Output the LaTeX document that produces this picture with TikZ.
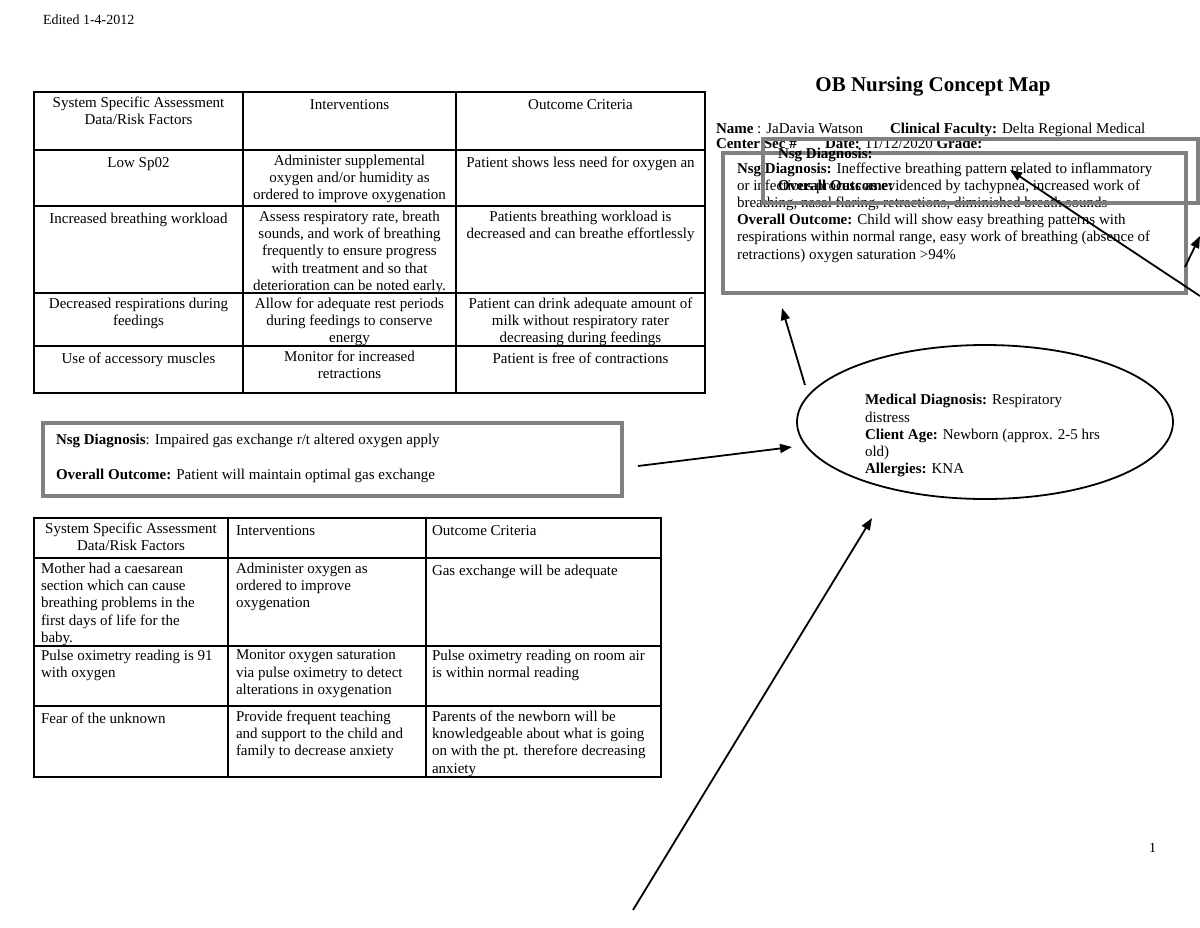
\documentclass[tikz,border=0pt]{standalone}
\usepackage{fontspec}
\setmainfont{Liberation Serif}
\usetikzlibrary{arrows.meta}
\definecolor{boxgray}{HTML}{808080}
\tikzset{
  txt/.style={inner sep=0pt, outer sep=0pt, yshift=-2pt, font=\fontsize{15}{17.2}\selectfont, execute at begin node=\strut},
  ctxt/.style={txt, align=center, anchor=north},
  ltxt/.style={txt, align=left, anchor=north west},
  stxt/.style={inner sep=0pt, outer sep=0pt, font=\fontsize{15}{17.2}\selectfont, anchor=base west},
  gbox/.style={draw=boxgray, line width=4pt},
  tline/.style={line width=1.2pt},
  arr/.style={-{Triangle[length=12pt,width=9pt]}, line width=1.8pt},
}
\begin{document}
\begin{tikzpicture}[x=1pt,y=-1pt]
\useasboundingbox[fill=white] (0,0) rectangle (1200,927);

% header texts
\node[stxt, font=\fontsize{14}{16}\selectfont] (edited) at (43,24) {Edited 1-4-2012};
\node[inner sep=0pt, anchor=base, font=\fontsize{21}{24}\selectfont\bfseries] (title) at (933,91) {OB Nursing Concept Map};
\node[stxt] (name) at (716,133.5) {\textbf{Name} : JaDavia Watson};
\node[stxt] (faculty) at (890,133.5) {\textbf{Clinical Faculty:} Delta Regional Medical};
\node[stxt] (center) at (716,148.5) {\textbf{Center Sec \#}};
\node[stxt] (date) at (825,148.5) {\textbf{Date:} 11/12/2020 \textbf{Grade:}};
\node[stxt, font=\fontsize{14}{16}\selectfont] (page) at (1149,852) {1};

% ---------- top table ----------
\draw[tline] (34,92) rectangle (705,393);
\foreach \y in {150,206,293,346} \draw[tline] (34,\y) -- (705,\y);
\foreach \x in {243,456} \draw[tline] (\x,92) -- (\x,393);

\node[ctxt] (t1h1) at (138.5,95) {System Specific Assessment\\Data/Risk Factors};
\node[ctxt] (t1h2) at (349.5,95) {Interventions};
\node[ctxt] (t1h3) at (580.5,95) {Outcome Criteria};

\node[ctxt] (t1a1) at (138.5,153) {Low Sp02};
\node[ctxt] (t1a2) at (349.5,153) {Administer supplemental\\oxygen and/or humidity as\\ordered to improve oxygenation};
\node[ctxt] (t1a3) at (580.5,153) {Patient shows less need for oxygen an};

\node[ctxt] (t1b1) at (138.5,209) {Increased breathing workload};
\node[ctxt] (t1b2) at (349.5,209) {Assess respiratory rate, breath\\sounds, and work of breathing\\frequently to ensure progress\\with treatment and so that\\deterioration can be noted early.};
\node[ctxt] (t1b3) at (580.5,209) {Patients breathing workload is\\decreased and can breathe effortlessly};

\node[ctxt] (t1c1) at (138.5,296) {Decreased respirations during\\feedings};
\node[ctxt] (t1c2) at (349.5,296) {Allow for adequate rest periods\\during feedings to conserve\\energy};
\node[ctxt] (t1c3) at (580.5,296) {Patient can drink adequate amount of\\milk without respiratory rater\\decreasing during feedings};

\node[ctxt] (t1d1) at (138.5,349) {Use of accessory muscles};
\node[ctxt] (t1d2) at (349.5,349) {Monitor for increased\\retractions};
\node[ctxt] (t1d3) at (580.5,349) {Patient is free of contractions};

% ---------- middle nsg box ----------
\draw[gbox] (43,423) rectangle (622,496);
\node[stxt] (nsg2a) at (56,444.5) {\textbf{Nsg Diagnosis}: Impaired gas exchange r/t altered oxygen apply};
\node[stxt] (nsg2b) at (56,479.5) {\textbf{Overall Outcome:} Patient will maintain optimal gas exchange};

% ---------- bottom table ----------
\draw[tline] (34,518) rectangle (661,777);
\foreach \y in {558,646,706} \draw[tline] (34,\y) -- (661,\y);
\foreach \x in {228,426} \draw[tline] (\x,518) -- (\x,777);

\node[ctxt] (t2h1) at (131,521) {System Specific Assessment\\Data/Risk Factors};
\node[ltxt] (t2h2) at (236,521) {Interventions};
\node[ltxt] (t2h3) at (432,521) {Outcome Criteria};

\node[ltxt] (t2a1) at (41,561) {Mother had a caesarean\\section which can cause\\breathing problems in the\\first days of life for the\\baby.};
\node[ltxt] (t2a2) at (236,561) {Administer oxygen as\\ordered to improve\\oxygenation};
\node[ltxt] (t2a3) at (432,561) {Gas exchange will be adequate};

\node[ltxt] (t2b1) at (41,648) {Pulse oximetry reading is 91\\with oxygen};
\node[ltxt] (t2b2) at (236,648) {Monitor oxygen saturation\\via pulse oximetry to detect\\alterations in oxygenation};
\node[ltxt] (t2b3) at (432,648) {Pulse oximetry reading on room air\\is within normal reading};

\node[ltxt] (t2c1) at (41,709) {Fear of the unknown};
\node[ltxt] (t2c2) at (236,709) {Provide frequent teaching\\and support to the child and\\family to decrease anxiety};
\node[ltxt] (t2c3) at (432,709) {Parents of the newborn will be\\knowledgeable about what is going\\on with the pt. therefore decreasing\\anxiety};

% ---------- top right boxes ----------
\node[ltxt] (nsg1) at (737,160.5) {\textbf{Nsg Diagnosis:} Ineffective breathing pattern related to inflammatory\\or infectious process as evidenced by tachypnea, increased work of\\breathing, nasal flaring, retractions, diminished breath sounds\\\textbf{Overall Outcome:} Child will show easy breathing patterns with\\respirations within normal range, easy work of breathing (absence of\\retractions) oxygen saturation >94\%};
\draw[gbox] (723,153) rectangle (1186,293);
\draw[gbox] (763,139) rectangle (1198,203);
\node[stxt] (nsg3a) at (778,158) {\textbf{Nsg Diagnosis:}};
\node[stxt] (nsg3b) at (778,190) {\textbf{Overall Outcome:}};

% ---------- ellipse ----------
\draw[line width=1.8pt] (985,422) ellipse [x radius=188, y radius=77];
\coordinate (ell) at (985,422);
\node[ltxt] (med) at (865,392.5) {\textbf{Medical Diagnosis:} Respiratory\\distress\\\textbf{Client Age:} Newborn (approx. 2-5 hrs\\old)\\\textbf{Allergies:} KNA};

% ---------- arrows ----------
\coordinate (a1s) at (638,466); \coordinate (a1e) at (792,447);
\coordinate (a2s) at (805,385); \coordinate (a2e) at (782,308);
\coordinate (a3s) at (633,910); \coordinate (a3e) at (872,518);
\coordinate (a4s) at (1200,296); \coordinate (a4e) at (1010,170);
\coordinate (a5s) at (1185,267); \coordinate (a5e) at (1200,236);
\draw[arr] (a1s) -- (a1e);
\draw[arr] (a2s) -- (a2e);
\draw[arr] (a3s) -- (a3e);
\draw[arr] (a4s) -- (a4e);
\draw[arr] (a5s) -- (a5e);
\end{tikzpicture}
\end{document}
